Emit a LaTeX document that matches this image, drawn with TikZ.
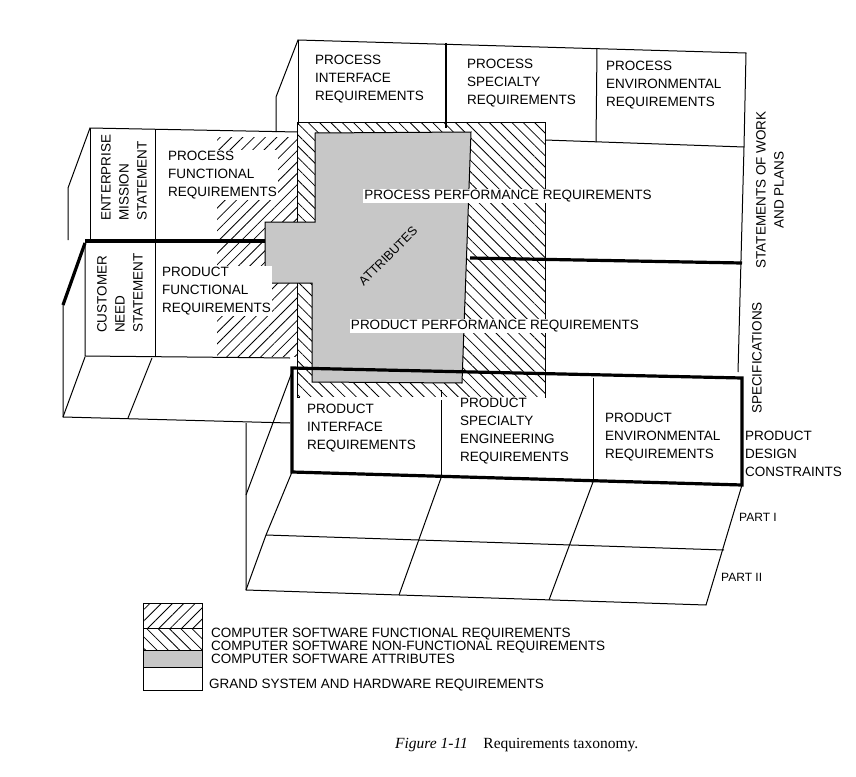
\documentclass[tikz,border=0pt]{standalone}
\usepackage{fontspec}
\setmainfont{Liberation Serif}
\newfontfamily\lsans{Liberation Sans}
\usetikzlibrary{patterns.meta}
\begin{document}
\begin{tikzpicture}[x=1pt,y=-1pt,
  lbl/.style={font=\lsans\fontsize{13.5}{18}\selectfont,align=left,inner sep=1pt,anchor=north west},
  thin/.style={line width=1pt},
  thick/.style={line width=3.2pt},
  fh/.style={pattern={Lines[angle=45,distance=8pt,line width=0.8pt]}},
  nh/.style={pattern={Lines[angle=-45,distance=8pt,line width=0.8pt]}},
  att/.style={fill=black!22}]
\useasboundingbox (0,0) rectangle (856,776);
% top row (process)
\draw[thin] (276,132) -- (276,97) -- (298,40) -- (746,53) -- (744,147);
\draw[thin] (298,40) -- (298,125);
\draw[line width=2pt] (446,43) -- (446,128);
\draw[thin] (597,48) -- (596,142);
\draw[thin] (545,140) -- (744,147);
% left block
\draw[thin] (68,240) -- (68,188) -- (90,128) -- (298,132);
\draw[thin] (90,128) -- (90,241);
\draw[thin] (155,130) -- (155,356);
\draw[thin] (85,243) -- (85,356) -- (290,358);
\draw[thin] (63,305) -- (63,417) -- (290,423);
\draw[thin] (85,357) -- (63,417);
\draw[thin] (152,358) -- (128,418);
\draw[thick] (85,243) -- (63,305);
\draw[thick] (85,241) -- (265,241);
% right main block
\draw[thin] (744,147) -- (738,372);
\draw[thick] (470,258) -- (742,263);
% functional hatch
\path[fh] (217,137) rectangle (298,356);
% non-functional hatch frame
\path[nh] (297,122) rectangle (545,397);
\draw[thin] (297,122) rectangle (545,397);
% attributes
\draw[att,thin] (315,133) -- (471,132) -- (462,383) -- (312,382) -- (312,283) -- (265,283) -- (265,222) -- (315,222) -- cycle;
% lower block
\draw[thin] (292,372) -- (246,495);
\draw[thin] (246,423) -- (246,590) -- (706,605) -- (742,485);
\draw[thin] (266,535) -- (724,550);
\draw[thin] (292,472) -- (266,535) -- (246,590);
\draw[thin] (441,478) -- (399,595);
\draw[thin] (593,482) -- (549,600);
\draw[thin] (441,390) -- (441,478);
\draw[thin] (593,378) -- (593,482);
\path[fill=white] (300,397) rectangle (545,400);
\draw[thick] (292,368) -- (742,378) -- (742,485) -- (292,472) -- cycle;
% texts
\node[lbl] (pir) at (314,54) {PROCESS\\INTERFACE\\REQUIREMENTS};
\node[lbl] (psr) at (466,58) {PROCESS\\SPECIALTY\\REQUIREMENTS};
\node[lbl] (per) at (605,60) {PROCESS\\ENVIRONMENTAL\\REQUIREMENTS};
\node[lbl,rotate=90,fill=white] (ems) at (100,222) {ENTERPRISE\\MISSION\\STATEMENT};
\node[lbl,rotate=90] (cns) at (96,334) {CUSTOMER\\NEED\\STATEMENT};
\node[lbl,fill=white] (pfr) at (167,150) {PROCESS\\FUNCTIONAL\\REQUIREMENTS};
\node[lbl,fill=white] (dfr) at (161,266) {PRODUCT\\FUNCTIONAL\\REQUIREMENTS};
\node[lbl,anchor=center,fill=white] (ppr) at (508,196) {PROCESS PERFORMANCE REQUIREMENTS};
\node[lbl,anchor=center,fill=white] (dpr) at (495,326) {PRODUCT PERFORMANCE REQUIREMENTS};
\node[anchor=center,rotate=45,inner sep=0pt,font=\lsans\fontsize{12.5}{13}\selectfont] (att) at (388,256) {ATTRIBUTES};
\node[lbl] (dir) at (306,403) {PRODUCT\\INTERFACE\\REQUIREMENTS};
\node[lbl] (dse) at (459,397) {PRODUCT\\SPECIALTY\\ENGINEERING\\REQUIREMENTS};
\node[lbl] (der) at (604,412) {PRODUCT\\ENVIRONMENTAL\\REQUIREMENTS};
\node[lbl,anchor=center,align=center,rotate=90] (swp) at (770,190) {STATEMENTS OF WORK\\AND PLANS};
\node[lbl,anchor=center,rotate=90] (spec) at (757,358) {SPECIFICATIONS};
\node[lbl] (pdc) at (744,430) {PRODUCT\\DESIGN\\CONSTRAINTS};
\node[lbl,font=\lsans\fontsize{12}{13}\selectfont] (p1) at (738,512) {PART I};
\node[lbl,font=\lsans\fontsize{12}{13}\selectfont] (p2) at (720,572) {PART II};
% legend
\path[fh] (143,603) rectangle (202,628);
\path[nh] (143,628) rectangle (202,650);
\path[att] (143,650) rectangle (202,667);
\draw[thin] (143,603) rectangle (202,690);
\draw[thin] (143,628) -- (202,628) (143,650) -- (202,650) (143,667) -- (202,667);
\begin{scope}[every node/.style={font=\lsans\fontsize{13.5}{14}\selectfont,anchor=base west,inner sep=0pt}]
\node (l1) at (211,637) {COMPUTER SOFTWARE FUNCTIONAL REQUIREMENTS};
\node (l2) at (211,650) {COMPUTER SOFTWARE NON-FUNCTIONAL REQUIREMENTS};
\node (l3) at (211,663) {COMPUTER SOFTWARE ATTRIBUTES};
\node (l4) at (209,688) {GRAND SYSTEM AND HARDWARE REQUIREMENTS};
\end{scope}
\node[anchor=base west,font=\fontsize{15.5}{17}\selectfont,inner sep=0pt] (cap) at (395,748) {\textit{Figure 1-11}\quad Requirements taxonomy.};
\end{tikzpicture}
\end{document}
